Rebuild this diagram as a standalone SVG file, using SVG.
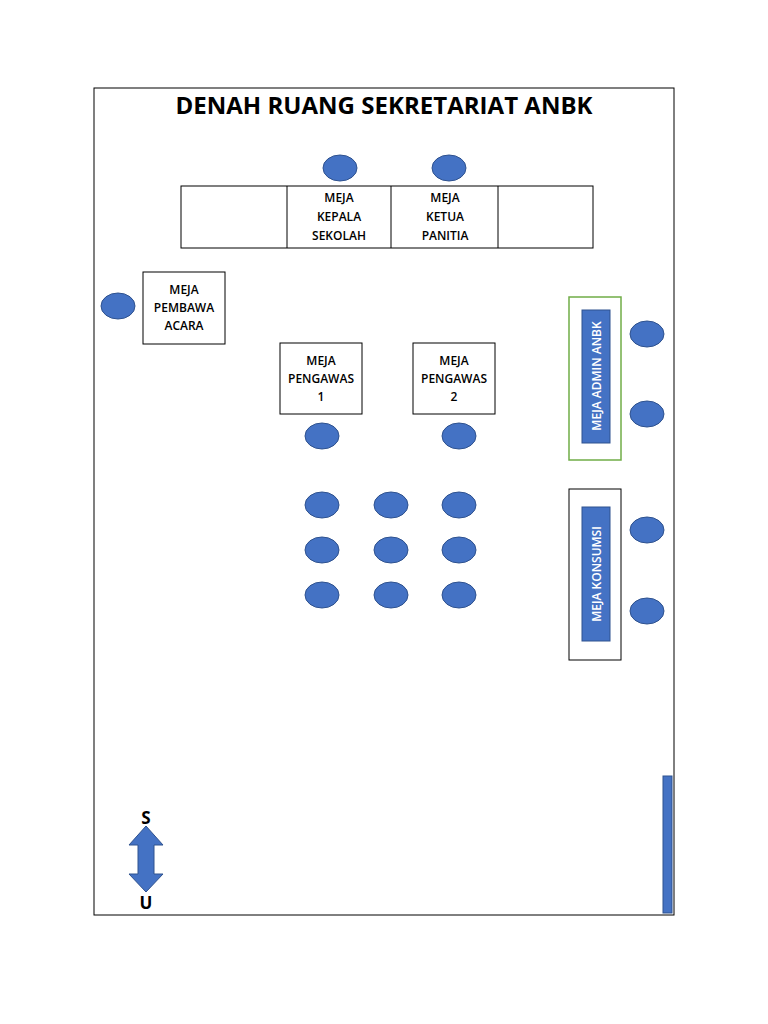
<svg xmlns="http://www.w3.org/2000/svg" width="768" height="1024" viewBox="0 0 768 1024">
<style>
.t{font-family:"Open Sans","Liberation Sans",sans-serif;font-size:12px;font-weight:600;text-anchor:middle;fill:#000}
.box{fill:#fff;stroke:#000;stroke-width:1}
.c{fill:#4472c4;stroke:#2f528f;stroke-width:1}
.bar{fill:#4472c4;stroke:#2f528f;stroke-width:1}
.w{font-family:"Open Sans","Liberation Sans",sans-serif;font-size:12px;font-weight:600;text-anchor:middle;fill:#fff}
</style>
<rect width="768" height="1024" fill="#fff"/>
<rect x="94" y="88" width="580" height="827" fill="none" stroke="#000" stroke-width="1"/>
<text x="384" y="114" font-family="Open Sans,Liberation Sans,sans-serif" font-size="24" font-weight="bold" text-anchor="middle" textLength="417">DENAH RUANG SEKRETARIAT ANBK</text>
<g id="meja-depan">
<rect class="box" x="181" y="186" width="412" height="62"/>
<line x1="287" y1="186" x2="287" y2="248" stroke="#000"/>
<line x1="391" y1="186" x2="391" y2="248" stroke="#000"/>
<line x1="498" y1="186" x2="498" y2="248" stroke="#000"/>
<text class="t" x="339" y="202">MEJA</text><text class="t" x="339" y="221">KEPALA</text><text class="t" x="339" y="240">SEKOLAH</text>
<text class="t" x="445" y="202">MEJA</text><text class="t" x="445" y="221">KETUA</text><text class="t" x="445" y="240">PANITIA</text>
<ellipse class="c" cx="340" cy="168" rx="17" ry="13"/>
<ellipse class="c" cx="449" cy="168" rx="17" ry="13"/>
</g>
<g id="meja-pembawa-acara">
<rect class="box" x="143" y="272" width="82" height="72"/>
<text class="t" x="184" y="294">MEJA</text><text class="t" x="184" y="312">PEMBAWA</text><text class="t" x="184" y="330">ACARA</text>
<ellipse class="c" cx="118" cy="306" rx="17" ry="13"/>
</g>
<g id="meja-pengawas-1">
<rect class="box" x="280" y="343" width="82" height="71"/>
<text class="t" x="321" y="365">MEJA</text><text class="t" x="321" y="383">PENGAWAS</text><text class="t" x="321" y="401">1</text>
<ellipse class="c" cx="322" cy="436" rx="17" ry="13"/>
</g>
<g id="meja-pengawas-2">
<rect class="box" x="413" y="343" width="82" height="71"/>
<text class="t" x="454" y="365">MEJA</text><text class="t" x="454" y="383">PENGAWAS</text><text class="t" x="454" y="401">2</text>
<ellipse class="c" cx="459" cy="436" rx="17" ry="13"/>
</g>
<g id="kursi-peserta">
<ellipse class="c" cx="322" cy="505" rx="17" ry="13"/><ellipse class="c" cx="391" cy="505" rx="17" ry="13"/><ellipse class="c" cx="459" cy="505" rx="17" ry="13"/>
<ellipse class="c" cx="322" cy="550" rx="17" ry="13"/><ellipse class="c" cx="391" cy="550" rx="17" ry="13"/><ellipse class="c" cx="459" cy="550" rx="17" ry="13"/>
<ellipse class="c" cx="322" cy="595" rx="17" ry="13"/><ellipse class="c" cx="391" cy="595" rx="17" ry="13"/><ellipse class="c" cx="459" cy="595" rx="17" ry="13"/>
</g>
<g id="meja-admin">
<rect x="569" y="297" width="52" height="163" fill="#fff" stroke="#70ad47" stroke-width="1.5"/>
<rect class="bar" x="582" y="310" width="28" height="133"/>
<text class="w" transform="translate(601,376) rotate(-90)">MEJA ADMIN ANBK</text>
<ellipse class="c" cx="647" cy="334" rx="17" ry="13"/>
<ellipse class="c" cx="647" cy="414" rx="17" ry="13"/>
</g>
<g id="meja-konsumsi">
<rect class="box" x="569" y="489" width="52" height="171"/>
<rect class="bar" x="582" y="507" width="28" height="134"/>
<text class="w" transform="translate(601,574) rotate(-90)">MEJA KONSUMSI</text>
<ellipse class="c" cx="647" cy="530" rx="17" ry="13"/>
<ellipse class="c" cx="647" cy="611" rx="17" ry="13"/>
</g>
<g id="pintu"><rect class="bar" x="663" y="776" width="9" height="137"/></g>
<g id="arah">
<text x="146" y="824" font-family="Open Sans,Liberation Sans,sans-serif" font-size="17" font-weight="bold" text-anchor="middle">S</text>
<polygon class="c" points="146,826 163,845 154,845 154,874 163,874 146,892 129,874 138,874 138,845 129,845"/>
<text x="146" y="909" font-family="Open Sans,Liberation Sans,sans-serif" font-size="17" font-weight="bold" text-anchor="middle">U</text>
</g>
</svg>
